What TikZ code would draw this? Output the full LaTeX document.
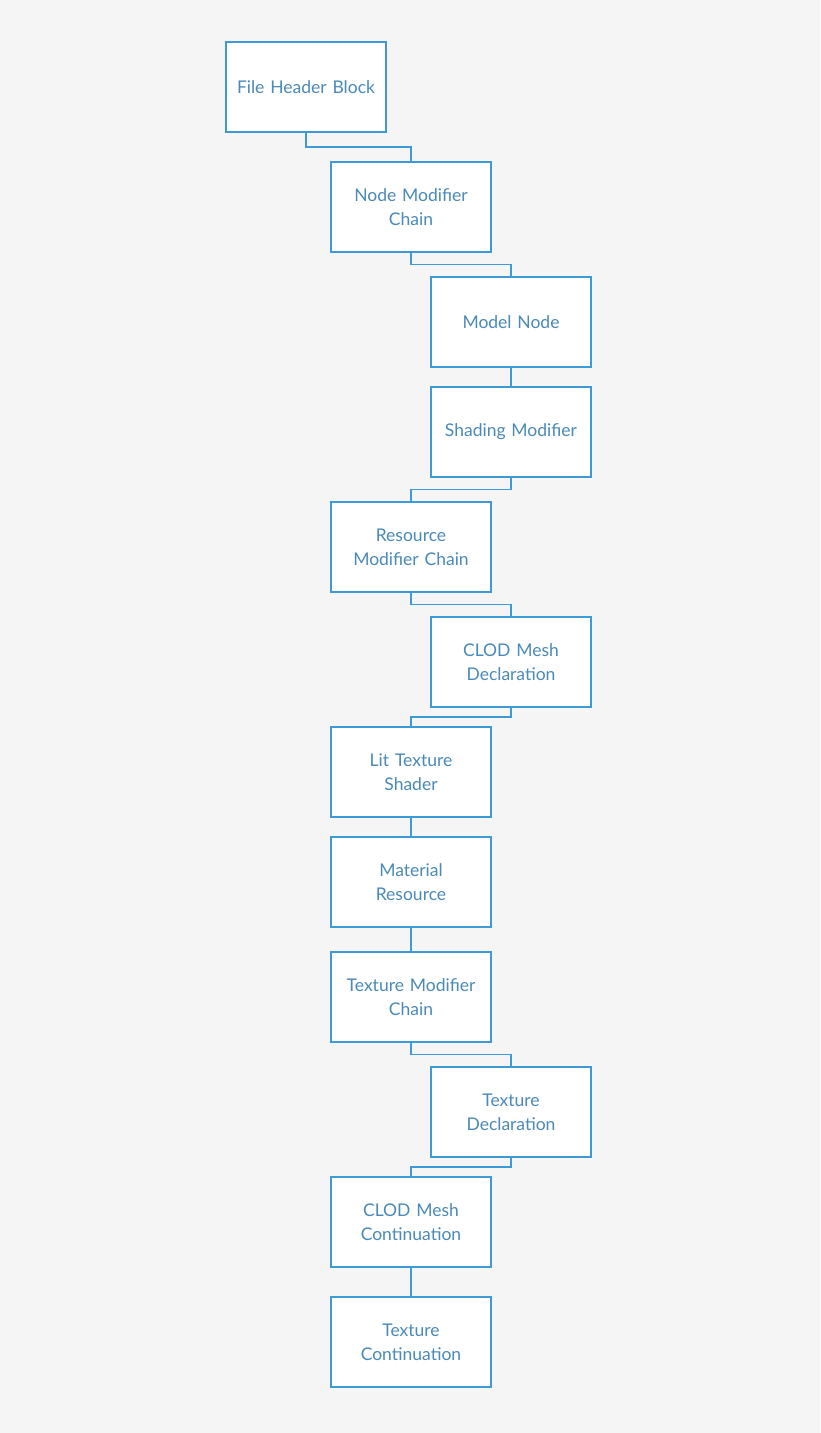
\documentclass[tikz,border=0pt]{standalone}
\usepackage{fontspec}
\setmainfont{Lato}
\usetikzlibrary{calc}
\definecolor{boxline}{HTML}{3D9AD6}
\definecolor{boxtext}{HTML}{4A8AB8}
\definecolor{backgr}{HTML}{F5F5F5}
\tikzset{
  blk/.style={draw=boxline,line width=1.6pt,fill=white,minimum width=160pt,minimum height=90pt,
    text width=150pt,align=center,text=boxtext,font=\fontsize{17.5}{24}\selectfont},
  link/.style={draw=boxline,line width=1.6pt}
}
\begin{document}
\begin{tikzpicture}[x=1pt,y=-1pt]
  \fill[backgr] (0,0) rectangle (820,1433);
  \useasboundingbox (0,0) rectangle (820,1433);

  % blocks
  \node[blk] (hdr) at (306,87) {File Header Block};
  \node[blk] (nmc) at (411,207) {Node Modifier\\Chain};
  \node[blk] (mdl) at (511,322) {Model Node};
  \node[blk] (shd) at (511,432) {Shading Modifier};
  \node[blk] (rmc) at (411,547) {Resource\\Modifier Chain};
  \node[blk] (cmd) at (511,662) {CLOD Mesh\\Declaration};
  \node[blk] (lts) at (411,772) {Lit Texture\\Shader};
  \node[blk] (mat) at (411,882) {Material\\Resource};
  \node[blk] (tmc) at (411,997) {Texture Modifier\\Chain};
  \node[blk] (txd) at (511,1112) {Texture\\Declaration};
  \node[blk] (cmc) at (411,1222) {CLOD Mesh\\Continuation};
  \node[blk] (txc) at (411,1342) {Texture\\Continuation};

  % elbow links
  \foreach \a/\b in {hdr/nmc,nmc/mdl,mdl/shd,shd/rmc,rmc/cmd,cmd/lts,lts/mat,mat/tmc,tmc/txd,txd/cmc,cmc/txc} {
    \draw[link] (\a.south) |- ($(\a.south)!0.5!(\b.north)$) -| (\b.north);
  }
\end{tikzpicture}
\end{document}
